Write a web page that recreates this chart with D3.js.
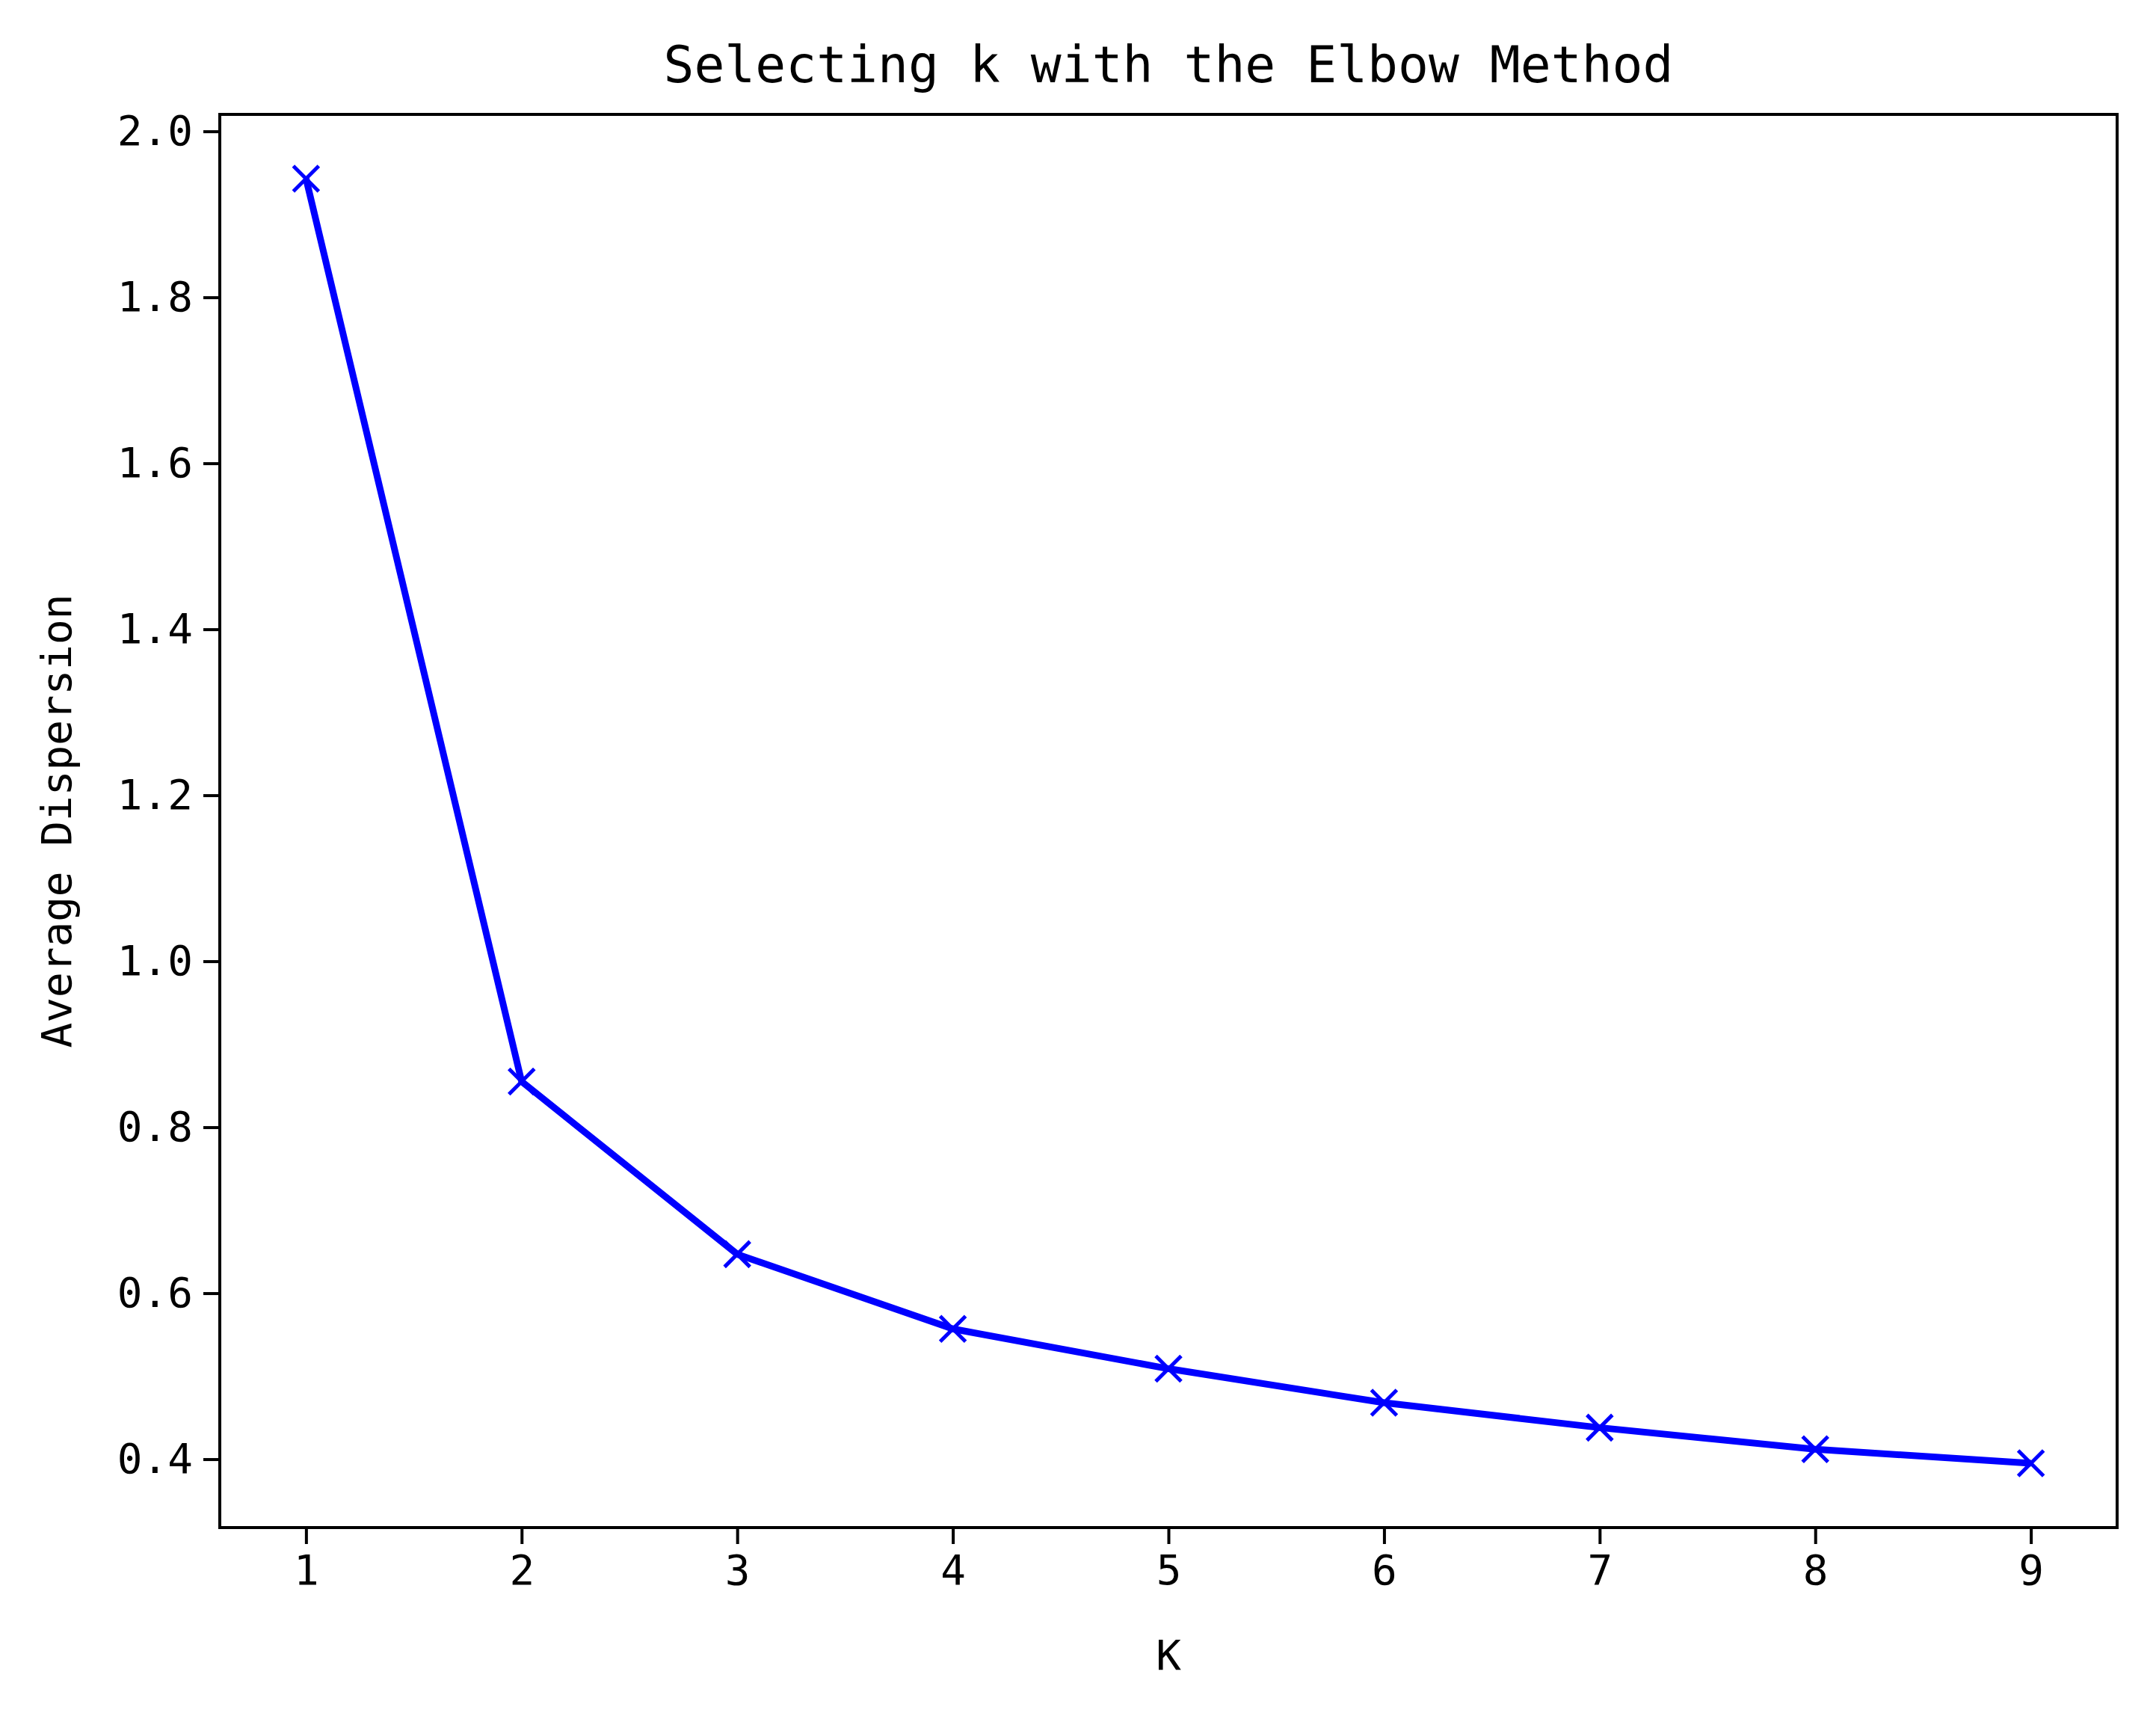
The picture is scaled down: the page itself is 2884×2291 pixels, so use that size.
<!DOCTYPE html>
<html><head><meta charset="utf-8">
<script src="https://cdn.jsdelivr.net/npm/d3@7"></script>
<style>body{margin:0;background:#fff}text{font-family:"DejaVu Sans Mono",monospace;fill:#000}</style>
</head><body><div id="chart"></div>
<script>
// data
var ks = [1, 2, 3, 4, 5, 6, 7, 8, 9];
var dispersion = [1.943, 0.855, 0.647, 0.557, 0.509, 0.468, 0.438, 0.412, 0.395];
var yTicks = [0.4, 0.6, 0.8, 1.0, 1.2, 1.4, 1.6, 1.8, 2.0];

var svgWidth = 2884, svgHeight = 2291;
var margin = {top: 153, left: 294, right: 52, bottom: 248};
var width = svgWidth - margin.left - margin.right;
var height = svgHeight - margin.top - margin.bottom;

var svg = d3.select("#chart").append("svg")
    .attr("width", svgWidth).attr("height", svgHeight);
var g = svg.append("g").attr("transform", `translate(${margin.left},${margin.top})`);

var x = d3.scaleLinear().domain([0.6, 9.4]).range([0, width]);
var ymin = d3.min(dispersion), ymax = d3.max(dispersion), pad = (ymax - ymin) * 0.05;
var y = d3.scaleLinear().domain([ymin - pad, ymax + pad]).range([height, 0]);

var xAxis = g.append("g").attr("transform", `translate(0,${height})`)
    .call(d3.axisBottom(x).tickValues(ks).tickSize(22).tickPadding(14).tickFormat(d3.format("d")));
var yAxis = g.append("g")
    .call(d3.axisLeft(y).tickValues(yTicks).tickSize(22).tickPadding(14).tickFormat(d3.format(".1f")));
[xAxis, yAxis].forEach(function(a) {
  a.selectAll(".domain").remove();
  a.selectAll("line").attr("stroke", "#000").attr("stroke-width", 4);
  a.selectAll("text").style("font-size", "56px").style("font-family", "DejaVu Sans Mono");
});

g.append("rect").attr("width", width).attr("height", height)
    .attr("fill", "none").attr("stroke", "#000").attr("stroke-width", 4);

var line = d3.line().x(function(d, i) { return x(ks[i]); }).y(function(d) { return y(d); });
g.append("path").datum(dispersion).attr("d", line)
    .attr("fill", "none").attr("stroke", "#0000ff").attr("stroke-width", 9);

var m = 17;
g.selectAll(".mk").data(dispersion).enter().append("path")
    .attr("d", function(d, i) {
      var cx = x(ks[i]), cy = y(d);
      return `M${cx-m},${cy-m}L${cx+m},${cy+m}M${cx-m},${cy+m}L${cx+m},${cy-m}`;
    })
    .attr("stroke", "#0000ff").attr("stroke-width", 5).attr("fill", "none");

svg.append("text").attr("x", margin.left + width / 2).attr("y", 110)
    .attr("text-anchor", "middle").style("font-size", "68px")
    .text("Selecting k with the Elbow Method");
svg.append("text").attr("x", margin.left + width / 2).attr("y", margin.top + height + 190)
    .attr("text-anchor", "middle").style("font-size", "56px").text("K");
svg.append("text").attr("transform", `translate(95,${margin.top + height / 2}) rotate(-90)`)
    .attr("text-anchor", "middle").style("font-size", "56px").text("Average Dispersion");
</script></body></html>
